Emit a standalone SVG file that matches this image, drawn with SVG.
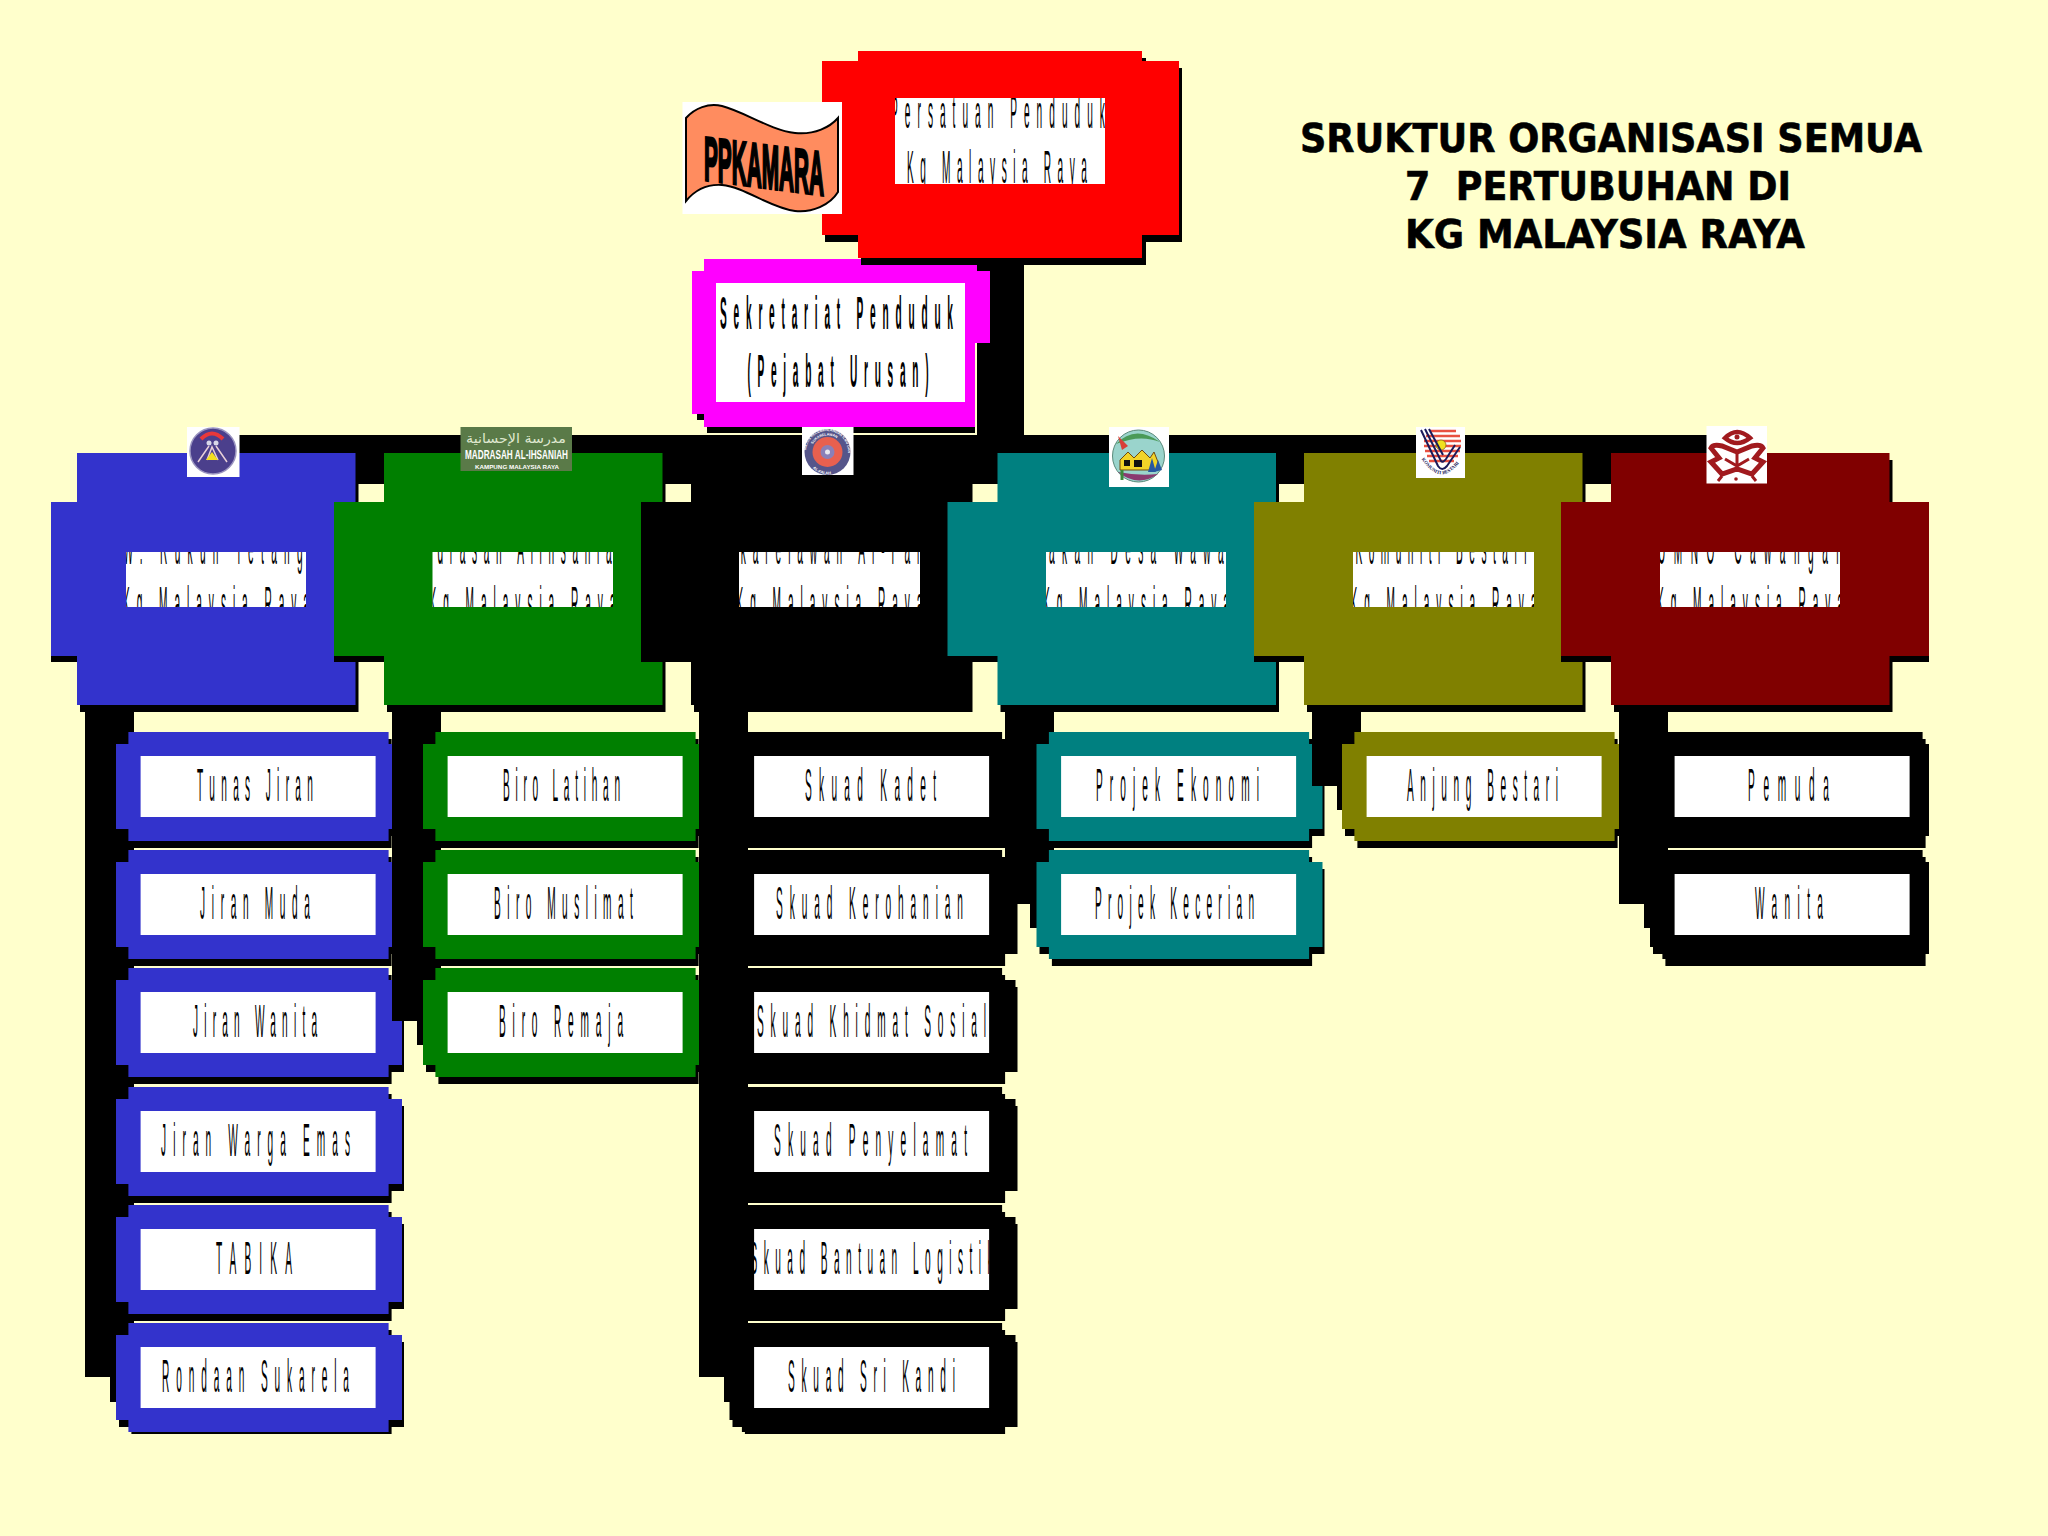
<svg xmlns="http://www.w3.org/2000/svg" width="2048" height="1536" viewBox="0 0 2048 1536">
<style>
.t{font-family:"Liberation Sans",Arial,sans-serif;font-size:46px;fill:#000;text-anchor:middle;white-space:pre}
.b{font-weight:bold}
.title{font-family:"DejaVu Sans",Verdana,sans-serif;font-weight:bold;font-size:39px;fill:#000;stroke:#000;stroke-width:.6px;white-space:pre}
.blue{color:#3333cc}.green{color:#007f00}.black{color:#000}.teal{color:#008080}.olive{color:#808000}.maroon{color:#800000}
.w{fill:#fff}.k{fill:#000}
.lg{font-family:"Liberation Sans",Arial,sans-serif;font-weight:bold}
</style>
<defs>
<g id="child"><path class="k" d="M15.4 7H275.600V19H288V104H275.600V116H15.4V104H3V19H15.4Z"/><path fill="currentColor" d="M12.4 0H272.600V12H286V97H272.600V109H12.4V97H0V12H12.4Z"/><rect class="w" x="24.600" y="24" width="235" height="61"/></g>
<g id="childLast"><path class="k" d="M15.4 7H275.600V19H288V104H275.600V111H15.4V104H3V19H15.4Z"/><path fill="currentColor" d="M12.4 0H272.600V12H286V97H272.600V109H12.4V97H0V12H12.4Z"/><rect class="w" x="24.600" y="24" width="235" height="61"/></g>
<g id="main"><path class="k" d="M3 7H281.500V56H318V209H281.500V259H3V209H-50V56H3Z"/><path fill="currentColor" d="M0 0H278.500V49H318V203H278.500V252H0V203H-50V49H0Z"/></g>
<clipPath id="cBlueKids"><path d="M0 0H392V1021H2048V1536H0Z"/></clipPath>
<clipPath id="cGreenKids"><rect width="699" height="1536"/></clipPath>
<clipPath id="cTealKids"><path d="M0 0H1312V786H2048V1536H0Z"/></clipPath>
<clipPath id="cOliveKids"><rect width="1619" height="1536"/></clipPath>
<clipPath id="cMaroonKids"><rect width="1929" height="1536"/></clipPath>
<clipPath id="cRed"><rect x="895" y="98" width="210" height="86"/></clipPath>
<clipPath id="c1"><rect x="126" y="552" width="180" height="55"/></clipPath>
<clipPath id="c2"><rect x="432.500" y="552" width="180.500" height="55"/></clipPath>
<clipPath id="c3"><rect x="739" y="552" width="181" height="55"/></clipPath>
<clipPath id="c4"><rect x="1046" y="552" width="180" height="55"/></clipPath>
<clipPath id="c5"><rect x="1353" y="552" width="181" height="55"/></clipPath>
<clipPath id="c6"><rect x="1660" y="552" width="180" height="55"/></clipPath>
<clipPath id="cLog"><rect x="754" y="1229" width="235" height="61"/></clipPath>
<path id="a3top" d="M806 452A21 21 0 0 1 848 452"/>
<path id="a3in" d="M811 452A16.500 16.500 0 0 1 844 452"/>
<path id="a3bot" d="M808 455A19.500 19.500 0 0 0 847 455"/>
<path id="a5" d="M1421 458Q1441 490 1462 459"/>
</defs>
<rect width="2048" height="1536" fill="#ffffcc"/>

<g id="connectors" class="k">
<path d="M977 258H1024V435H1710V484H239V435H977Z"/>
<path d="M85 705H134V1402H110V1377H85Z"/>
<path d="M392 705H441V1045H417V1021H392Z"/>
<path d="M699 705H748V1402H724V1377H699Z"/>
<path d="M1005 705H1054V928H1030V904H1005Z"/>
<path d="M1312 705H1361V810H1337V786H1312Z"/>
<path d="M1619 705H1668V928H1644V904H1619Z"/>
</g>

<g id="node-rw">
<path class="k" d="M80 460H358.500V509H400V662H358.500V712H80V662H51V656H77V509H80Z"/>
<path fill="#3333cc" d="M77 453H355.500V502H400V656H355.500V705H77V656H51V502H77Z"/>
<rect class="w" x="126" y="552" width="180" height="55"/>
<g clip-path="url(#c1)">
<text class="t" transform="translate(226 564) scale(.22 1)" textLength="932">W. Rukun Tetangga</text>
<text class="t" transform="translate(216 619) scale(.22 1)" textLength="845">Kg Malaysia Raya</text>
</g>
</g>
<g id="node-madrasah">
<use href="#main" x="384" y="453" class="green"/>
<rect class="w" x="432.500" y="552" width="180.500" height="55"/>
<g clip-path="url(#c2)">
<text class="t" transform="translate(517 564) scale(.22 1)" textLength="972">Madrasah Alihsaniah</text>
<text class="t" transform="translate(522.500 619) scale(.22 1)" textLength="845">Kg Malaysia Raya</text>
</g>
</g>
<g id="node-sukarelawan">
<use href="#main" x="691" y="453" class="black"/>
<rect class="w" x="739" y="552" width="181" height="55"/>
<g clip-path="url(#c3)">
<text class="t" transform="translate(829.500 564) scale(.22 1)" textLength="1045">Sukarelawan Al-Falah</text>
<text class="t" transform="translate(829.500 619) scale(.22 1)" textLength="845">Kg Malaysia Raya</text>
</g>
</g>
<g id="node-gdw">
<use href="#main" x="997.500" y="453" class="teal"/>
<rect class="w" x="1046" y="552" width="180" height="55"/>
<g clip-path="url(#c4)">
<text class="t" transform="translate(1136 564) scale(.22 1)" textLength="1145">Gerakan Desa Wawasan</text>
<text class="t" transform="translate(1136 619) scale(.22 1)" textLength="845">Kg Malaysia Raya</text>
</g>
</g>
<g id="node-komuniti">
<use href="#main" x="1304" y="453" class="olive"/>
<rect class="w" x="1353" y="552" width="181" height="55"/>
<g clip-path="url(#c5)">
<text class="t" transform="translate(1441 564) scale(.22 1)" textLength="778">Komuniti Bestari</text>
<text class="t" transform="translate(1443.500 619) scale(.22 1)" textLength="845">Kg Malaysia Raya</text>
</g>
</g>
<g id="node-umno">
<use href="#main" x="1611" y="453" class="maroon"/>
<rect class="w" x="1660" y="552" width="180" height="55"/>
<g clip-path="url(#c6)">
<text class="t" transform="translate(1750 564) scale(.22 1)" textLength="836">UMNO Cawangan</text>
<text class="t" transform="translate(1750 619) scale(.22 1)" textLength="845">Kg Malaysia Raya</text>
</g>
</g>

<g id="children-rw" clip-path="url(#cBlueKids)">
<g id="k-tunas"><use href="#child" x="116" y="732" class="blue"/><text class="t" transform="translate(255 801) scale(.22 1)" textLength="527">Tunas Jiran</text></g>
<g id="k-muda"><use href="#child" x="116" y="850" class="blue"/><text class="t" transform="translate(255 919) scale(.22 1)" textLength="500">Jiran Muda</text></g>
<g id="k-wanita"><use href="#child" x="116" y="968" class="blue"/><text class="t" transform="translate(255 1037) scale(.22 1)" textLength="564">Jiran Wanita</text></g>
<g id="k-emas"><use href="#child" x="116" y="1087" class="blue"/><text class="t" transform="translate(255.500 1156) scale(.22 1)" textLength="859">Jiran Warga Emas</text></g>
<g id="k-tabika"><use href="#child" x="116" y="1205" class="blue"/><text class="t" transform="translate(254 1274) scale(.22 1)" textLength="345">TABIKA</text></g>
<g id="k-rondaan"><use href="#childLast" x="116" y="1323" class="blue"/><text class="t" transform="translate(255.500 1392) scale(.22 1)" textLength="850">Rondaan Sukarela</text></g>
</g>
<g id="children-madrasah" clip-path="url(#cGreenKids)">
<g id="k-latihan"><use href="#child" x="423" y="732" class="green"/><text class="t" transform="translate(561.500 801) scale(.22 1)" textLength="532">Biro Latihan</text></g>
<g id="k-muslimat"><use href="#child" x="423" y="850" class="green"/><text class="t" transform="translate(563.500 919) scale(.22 1)" textLength="631">Biro Muslimat</text></g>
<g id="k-remaja"><use href="#child" x="423" y="968" class="green"/><text class="t" transform="translate(561 1037) scale(.22 1)" textLength="564">Biro Remaja</text></g>
</g>
<g id="children-sukarelawan">
<g id="k-kadet"><use href="#child" x="729.500" y="732" class="black"/><text class="t" transform="translate(870.500 801) scale(.22 1)" textLength="596">Skuad Kadet</text></g>
<g id="k-kerohanian"><use href="#child" x="729.500" y="850" class="black"/><text class="t" transform="translate(869.500 919) scale(.22 1)" textLength="850">Skuad Kerohanian</text></g>
<g id="k-sosial"><use href="#child" x="729.500" y="968" class="black"/><text class="t" transform="translate(871.500 1037) scale(.22 1)" textLength="1041">Skuad Khidmat Sosial</text></g>
<g id="k-penyelamat"><use href="#child" x="729.500" y="1087" class="black"/><text class="t" transform="translate(870.500 1156) scale(.22 1)" textLength="877">Skuad Penyelamat</text></g>
<g id="k-logistik"><use href="#child" x="729.500" y="1205" class="black"/><g clip-path="url(#cLog)"><text class="t" transform="translate(871.500 1274) scale(.22 1)" textLength="1100">Skuad Bantuan Logistik</text></g></g>
<g id="k-srikandi"><use href="#childLast" x="729.500" y="1323" class="black"/><text class="t" transform="translate(871.500 1392) scale(.22 1)" textLength="759">Skuad Sri Kandi</text></g>
</g>
<g id="children-gdw" clip-path="url(#cTealKids)">
<g id="k-ekonomi"><use href="#child" x="1036.500" y="732" class="teal"/><text class="t" transform="translate(1177.500 801) scale(.22 1)" textLength="741">Projek Ekonomi</text></g>
<g id="k-kecerian"><use href="#child" x="1036.500" y="850" class="teal"/><text class="t" transform="translate(1174.500 919) scale(.22 1)" textLength="723">Projek Kecerian</text></g>
</g>
<g id="children-komuniti" clip-path="url(#cOliveKids)">
<g id="k-anjung"><use href="#child" x="1342" y="732" class="olive"/><text class="t" transform="translate(1482.500 801) scale(.22 1)" textLength="686">Anjung Bestari</text></g>
</g>
<g id="children-umno" clip-path="url(#cMaroonKids)">
<g id="k-pemuda"><use href="#child" x="1650" y="732" class="black"/><text class="t" transform="translate(1788.500 801) scale(.22 1)" textLength="368">Pemuda</text></g>
<g id="k-wanita2"><use href="#child" x="1650" y="850" class="black"/><text class="t" transform="translate(1789 919) scale(.22 1)" textLength="309">Wanita</text></g>
</g>

<g id="node-sekretariat">
<path class="k" d="M697 414H707V433H975V427H707V420H697Z"/>
<path fill="#ff00ff" d="M704 259H977V271H990V343H975V427H704V414H692V271H704Z"/>
<rect class="w" x="716" y="283" width="249" height="119"/>
<text class="t b" transform="translate(836.500 329) scale(.22 1)" textLength="1059">Sekretariat Penduduk</text>
<text class="t b" transform="translate(838 387) scale(.22 1)" textLength="823">(Pejabat Urusan)</text>
</g>
<g id="node-ppkamara-root">
<path class="k" d="M861 58H1146V68H1182V242H1146V265H861V242H825V228H858V68H861Z"/>
<path fill="#ff0000" d="M858 51H1142V61H1179V235H1142V258H858V235H822V61H858Z"/>
<rect class="w" x="895" y="98" width="210" height="86"/>
<g clip-path="url(#cRed)">
<text class="t" transform="translate(998 128) scale(.22 1)" textLength="972">Persatuan Penduduk</text>
<text class="t" transform="translate(997 183) scale(.22 1)" textLength="818">Kg Malaysia Raya</text>
</g>
</g>

<g id="logo-ppkamara">
<rect class="w" x="682.500" y="102" width="159.500" height="112"/>
<path d="M686 118C695 108 708 103 722 106C745 112 770 130 795 133C815 135 830 127 838 118L838 192C830 205 812 213 795 211C770 208 745 187 722 185C708 184 695 190 686 201Z" fill="#ff8c5f" stroke="#000" stroke-width="2"/>
<text class="lg" font-size="62" fill="#000" stroke="#000" stroke-width="3" transform="translate(704 180) skewY(7.300) scale(.335 1)">PPKAMARA</text>
</g>

<g id="logo-rw">
<rect class="w" x="187" y="427" width="52.500" height="50"/>
<circle cx="213" cy="451" r="23" fill="#4b3f8c" stroke="#9a94c0" stroke-width="1.500"/>
<path d="M201 439Q212 428 223 439" fill="none" stroke="#e8383a" stroke-width="4"/>
<circle cx="209" cy="443" r="2.500" fill="#d8d8e8"/><circle cx="216" cy="443" r="2.500" fill="#d8d8e8"/>
<path d="M209 446L198 462M216 446L227 462M207 460L212 447L218 460" fill="none" stroke="#e8d0d8" stroke-width="1.500"/>
<path d="M212 452L206 460H218Z" fill="#f4e020"/>
</g>

<g id="logo-madrasah">
<rect x="460.500" y="427" width="111.500" height="44" fill="#5a7a48"/>
<text x="516" y="443" font-family="'DejaVu Sans',sans-serif" font-size="13" fill="#dfe8cf" text-anchor="middle" textLength="100" lengthAdjust="spacingAndGlyphs">مدرسة الإحسانية</text>
<text class="lg" x="465" y="459" font-size="13" fill="#fff" textLength="103" lengthAdjust="spacingAndGlyphs">MADRASAH AL-IHSANIAH</text>
<text class="lg" x="475" y="469" font-size="6" fill="#fff" textLength="84" lengthAdjust="spacingAndGlyphs">KAMPUNG MALAYSIA RAYA</text>
</g>

<g id="logo-alfalah">
<rect class="w" x="802" y="427" width="51.500" height="48"/>
<circle cx="827.500" cy="452" r="23" fill="#55558a"/>
<circle cx="827.500" cy="452" r="15" fill="#e8604f"/>
<circle cx="827.500" cy="452" r="7" fill="#8a80b8"/>
<circle cx="827.500" cy="452" r="2.500" fill="#e8e8f0"/>
<text class="lg" font-size="3.500" fill="#fff"><textPath href="#a3top" startOffset="2">MAJLIS KECEMERLANGAN ILMU DAN DOA</textPath></text>
<text class="lg" font-size="3.500" fill="#fff"><textPath href="#a3in" startOffset="8">SUKARELAWAN</textPath></text>
<text class="lg" font-size="4" fill="#fff"><textPath href="#a3bot" startOffset="14">AL-FALAH</textPath></text>
</g>

<g id="logo-desa">
<rect class="w" x="1109" y="427" width="60" height="60"/>
<circle cx="1138.500" cy="456" r="26" fill="#9ad4cc" stroke="#5a8a7a"/>
<path d="M1116 444Q1135 424 1160 442Q1140 434 1116 444Z" fill="#4a9a58"/>
<path d="M1118 436L1128 446L1122 450Z" fill="#d84038"/>
<path d="M1120 460L1128 452L1134 458L1142 450L1150 458L1154 452L1158 462V470H1120Z" fill="#f2d428" stroke="#704a10"/>
<rect x="1124" y="460" width="6" height="6" fill="#111"/><rect x="1134" y="460" width="8" height="7" fill="#111"/>
<path d="M1148 472L1152 458L1156 472ZM1154 472L1158 460L1162 470Z" fill="#2858a0"/>
<path d="M1118 472Q1138 488 1158 474Q1138 476 1118 472Z" fill="#8a3a70"/>
<path d="M1122 470V480" stroke="#3a8a3a" stroke-width="3"/>
</g>

<g id="logo-komuniti">
<rect class="w" x="1416" y="427" width="49" height="51"/>
<path d="M1430 431H1456M1426 436H1460M1424 441H1461M1424 446H1461M1425 451H1460M1427 456H1458M1429 461H1454" stroke="#e85040" stroke-width="2.500" fill="none"/>
<circle cx="1441" cy="445" r="5" fill="#f0e020" stroke="#806010" stroke-width=".7"/>
<path d="M1421 430L1438 466Q1442 472 1447 466L1460 447" fill="none" stroke="#1a1a5a" stroke-width="2"/>
<path d="M1425 429L1441 461Q1443 463 1446 459L1455 445" fill="none" stroke="#1a1a5a" stroke-width="2"/>
<path d="M1429 429L1443 455" fill="none" stroke="#1a1a5a" stroke-width="2"/>
<text font-family="'Liberation Serif',serif" font-size="4.800" font-weight="bold" fill="#1a1a5a"><textPath href="#a5" startOffset="1">KOMUNITI BESTARI</textPath></text>
</g>

<g id="logo-umno">
<rect class="w" x="1706.500" y="426" width="60.500" height="57.500"/>
<path d="M1725 438Q1737 426 1750 438Q1737 448 1725 438Z" fill="#fff" stroke="#a11a1e" stroke-width="4.500"/>
<circle cx="1737" cy="437" r="2.500" fill="#a11a1e"/>
<path d="M1737 452L1722 446Q1713 444 1711 448L1719 458L1711 462L1722 474L1737 469L1752 474L1763 462L1755 458L1763 448Q1761 444 1752 446Z" fill="none" stroke="#a11a1e" stroke-width="5"/>
<path d="M1725 459L1737 466L1749 459M1737 454V472M1722 476L1718 481M1752 476L1756 481" fill="none" stroke="#a11a1e" stroke-width="3"/>
<circle cx="1736" cy="479" r="1.800" fill="#a11a1e"/>
</g>

<g id="title">
<text class="title" x="1300" y="152" textLength="622" lengthAdjust="spacingAndGlyphs">SRUKTUR ORGANISASI SEMUA</text>
<text class="title" x="1405" y="200" textLength="386" lengthAdjust="spacingAndGlyphs">7  PERTUBUHAN DI</text>
<text class="title" x="1405" y="248" textLength="400" lengthAdjust="spacingAndGlyphs">KG MALAYSIA RAYA</text>
</g>
</svg>
